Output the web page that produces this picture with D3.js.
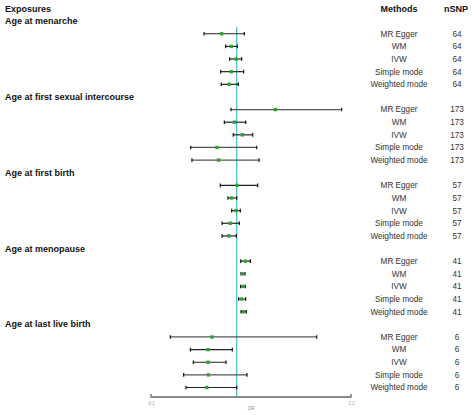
<!DOCTYPE html>
<html><head><meta charset="utf-8">
<script src="https://cdn.jsdelivr.net/npm/d3@7"></script>
<style>body{margin:0;background:#fff}svg{display:block;font-family:"Liberation Sans",Arial,sans-serif}</style>
</head><body>
<svg id="c" width="474" height="415"></svg>
<script>
const exposures = ["Age at menarche","Age at first sexual intercourse","Age at first birth","Age at menopause","Age at last live birth"];
const methods = ["MR Egger","WM","IVW","Simple mode","Weighted mode"];
const nSNP = [64,173,57,41,6];
// OR, lower CI, upper CI per exposure, in method order
const orValues = [
  [0.842,0.943,0.993,0.943,0.921],
  [1.405,0.975,1.059,0.793,0.810],
  [1.003,0.947,0.993,0.933,0.916],
  [1.090,1.063,1.066,1.052,1.073],
  [0.740,0.699,0.699,0.702,0.685]
];
const lowerCI = [
  [0.657,0.884,0.926,0.832,0.838],
  [0.940,0.870,0.964,0.517,0.530],
  [0.828,0.908,0.947,0.846,0.846],
  [1.042,1.045,1.041,1.020,1.045],
  [0.303,0.513,0.544,0.443,0.468]
];
const upperCI = [
  [1.080,1.006,1.052,1.073,1.017],
  [2.102,1.094,1.168,1.210,1.234],
  [1.220,1.000,1.038,1.028,0.996],
  [1.143,1.087,1.089,1.094,1.100],
  [1.840,0.954,0.888,1.108,1.000]
];
const axisTicks = [0.1, 2.2];

const svg = d3.select("#c");
const x = d3.scaleLinear().domain([0.1,2.2]).range([151,351]);
const y = d3.scaleLinear().domain([0,30]).range([8.5,387.5]);

const rows = [];
exposures.forEach((e,i)=>{
  methods.forEach((m,j)=>{
    rows.push({exp:i, m, n:nSNP[i], or:orValues[i][j], lo:lowerCI[i][j], hi:upperCI[i][j], r:1+i*6+1+j});
  });
});

// headers
const hs = 9;
svg.append("text").attr("x",5).attr("y",y(0)).attr("dy","0.35em")
  .attr("font-size",hs).attr("font-weight","bold").attr("fill","#111").text("Exposures");
svg.append("text").attr("x",399).attr("y",y(0)).attr("dy","0.35em").attr("text-anchor","middle")
  .attr("font-size",hs).attr("font-weight","bold").attr("fill","#111").text("Methods");
svg.append("text").attr("x",456).attr("y",y(0)).attr("dy","0.35em").attr("text-anchor","middle")
  .attr("font-size",hs).attr("font-weight","bold").attr("fill","#111").text("nSNP");
exposures.forEach((e,i)=>{
  svg.append("text").attr("x",5).attr("y",y(1+i*6)).attr("dy","0.35em")
    .attr("font-size",hs).attr("font-weight","bold").attr("fill","#111").text(e);
});

// reference line
svg.append("line").attr("x1",x(1)).attr("x2",x(1)).attr("y1",27).attr("y2",397)
  .attr("stroke","#3bb8cc").attr("stroke-width",1.2);

// CI lines
const g = svg.append("g");
g.selectAll("line.ci").data(rows).join("line").attr("class","ci")
  .attr("x1",d=>x(d.lo)).attr("x2",d=>x(d.hi)).attr("y1",d=>y(d.r)).attr("y2",d=>y(d.r))
  .attr("stroke",d=>(x(d.hi)-x(d.lo))>60?"#555":"#222").attr("stroke-width",1.2);
g.selectAll("line.capL").data(rows).join("line").attr("class","capL")
  .attr("x1",d=>x(d.lo)).attr("x2",d=>x(d.lo)).attr("y1",d=>y(d.r)-1.8).attr("y2",d=>y(d.r)+1.8)
  .attr("stroke","#111").attr("stroke-width",1.2);
g.selectAll("line.capR").data(rows).join("line").attr("class","capR")
  .attr("x1",d=>x(d.hi)).attr("x2",d=>x(d.hi)).attr("y1",d=>y(d.r)-1.8).attr("y2",d=>y(d.r)+1.8)
  .attr("stroke","#111").attr("stroke-width",1.2);
g.selectAll("rect.pt").data(rows).join("rect").attr("class","pt")
  .attr("x",d=>x(d.or)-1.7).attr("y",d=>y(d.r)-1.7).attr("width",3.4).attr("height",3.4)
  .attr("fill","#2ea32e");

// right labels
svg.selectAll("text.m").data(rows).join("text").attr("class","m")
  .attr("x",399).attr("y",d=>y(d.r)).attr("dy","0.35em").attr("text-anchor","middle")
  .attr("font-size",8.2).attr("fill","#333").text(d=>d.m);
svg.selectAll("text.n").data(rows).join("text").attr("class","n")
  .attr("x",457).attr("y",d=>y(d.r)).attr("dy","0.35em").attr("text-anchor","middle")
  .attr("font-size",8.2).attr("fill","#333").text(d=>d.n);

// axis
const ax = svg.append("g").attr("transform","translate(0,397)")
  .call(d3.axisBottom(x).tickValues(axisTicks).tickSize(-3).tickPadding(5).tickFormat(d3.format(".1f")));
ax.select(".domain").attr("stroke","#666").attr("stroke-width",1.3).attr("d","M151,-3V0H351V-3");
ax.selectAll(".tick line").remove();
ax.selectAll(".tick text").attr("font-size",4.5).attr("fill","#999").attr("font-family","Liberation Sans, Arial");
svg.append("text").attr("x",x(1.15)).attr("y",410).attr("text-anchor","middle")
  .attr("font-size",4.5).attr("fill","#888").text("OR");
</script>
</body></html>
